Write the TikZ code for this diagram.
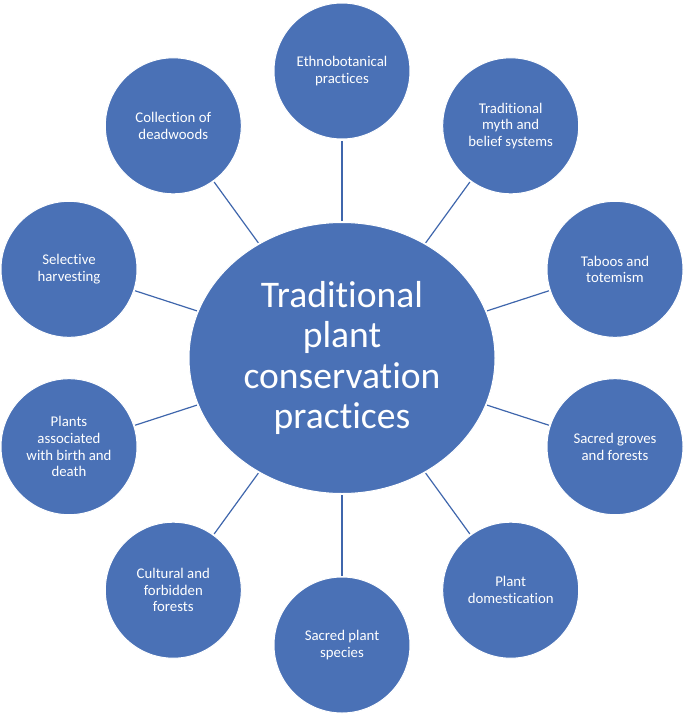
\documentclass[tikz,border=0pt]{standalone}
\usepackage{fontspec}
\setmainfont{Carlito}[Ligatures={NoCommon}]
\usetikzlibrary{shapes.geometric}
\definecolor{offblue}{HTML}{4A71B6}
\definecolor{linkblue}{HTML}{3F66AC}
\begin{document}
\begin{tikzpicture}[x=1pt,y=-1pt,
  hub/.style={ellipse, fill=offblue, draw=white, line width=1pt, minimum width=306, minimum height=271, inner sep=0pt, text=white, align=center, font={\fontsize{37.6}{40.5}\selectfont}},
  leaf/.style={circle, fill=offblue, draw=white, line width=1pt, minimum size=136, inner sep=0pt, text=white, align=center, font={\fontsize{14.8}{16.6}\selectfont}},
  link/.style={draw=linkblue, line width=1.2pt, shorten <=1pt, shorten >=1pt}]
\useasboundingbox (0,0) rectangle (685,718);
\node[hub] (c) at (342,358) {Traditional\\plant\\conservation\\practices};
\node[leaf] (n0) at (342,71) {Ethnobotanical\\practices};
\node[leaf] (n1) at (510.7,125.8) {Traditional\\myth and\\belief systems};
\node[leaf] (n2) at (615,269.3) {Taboos and\\totemism};
\node[leaf] (n3) at (615,446.7) {Sacred groves\\and forests};
\node[leaf] (n4) at (510.7,590.2) {Plant\\domestication};
\node[leaf] (n5) at (342,645) {Sacred plant\\species};
\node[leaf] (n6) at (173.3,590.2) {Cultural and\\forbidden\\forests};
\node[leaf] (n7) at (69,446.7) {Plants\\associated\\with birth and\\death};
\node[leaf] (n8) at (69,269.3) {Selective\\harvesting};
\node[leaf] (n9) at (173.3,125.8) {Collection of\\deadwoods};
\foreach \i in {0,...,9} \draw[link] (c) -- (n\i);
\end{tikzpicture}
\end{document}
